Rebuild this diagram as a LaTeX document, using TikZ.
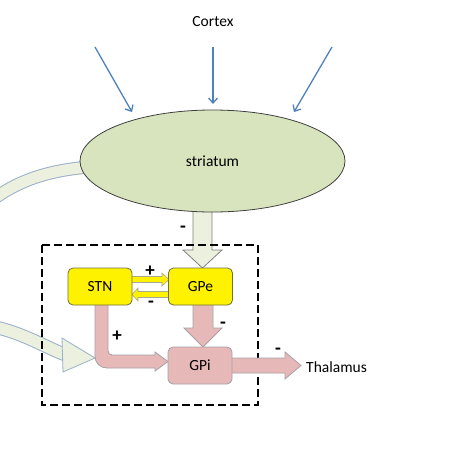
\documentclass[tikz,border=0pt]{standalone}
\usepackage{fontspec}
\setmainfont{Carlito}
\usetikzlibrary{arrows.meta,shapes.geometric}

\definecolor{stricol}{HTML}{D7E4BD}
\definecolor{palegreen}{HTML}{EBF1DE}
\definecolor{bandedge}{HTML}{9AAFC9}
\definecolor{cortexblue}{HTML}{4F81BD}
\definecolor{pinkfill}{HTML}{E6B9B8}
\definecolor{pinkedge}{HTML}{A8A0A6}
\definecolor{yelledge}{HTML}{6E6E40}

\def\boxw{64}
\def\boxh{37}

\tikzset{
  txt/.style={font=\fontsize{15.5}{18}\selectfont, inner sep=1pt},
  sign/.style={txt, font=\fontsize{19}{20}\selectfont\bfseries},
  ybox/.style={draw=yelledge, fill=yellow, rounded corners=5, line width=0.8,
    minimum width=\boxw, minimum height=\boxh, txt},
  pbox/.style={draw=pinkedge, fill=pinkfill, rounded corners=5, line width=0.8,
    minimum width=\boxw, minimum height=\boxh, txt},
  cortexarrow/.style={draw=cortexblue, line width=1.3, -{Straight Barb[length=5pt,width=9pt]}},
  greenarrow/.style={draw=gray, fill=palegreen, line width=0.8},
  yarrow/.style={draw=yelledge!60, fill=yellow, line width=0.6},
  parrow/.style={draw=pinkedge, fill=pinkfill, line width=0.8},
}

\begin{document}
\begin{tikzpicture}[x=1pt,y=-1pt]
  \useasboundingbox (0,0) rectangle (474,474);

  % cortex input
  \node[txt] (cortex) at (213,22) {Cortex};
  \coordinate (cl) at (95,47);
  \coordinate (cm) at (213,47);
  \coordinate (cr) at (332,47);
  \coordinate (sl) at (132,112);
  \coordinate (sm) at (213,104);
  \coordinate (sr) at (294,112);
  \draw[cortexarrow] (cl) -- (sl);
  \draw[cortexarrow] (cm) -- (sm);
  \draw[cortexarrow] (cr) -- (sr);

  % curved bands on the left
  \draw[draw=bandedge, line width=13] (90,167) .. controls (50,170) and (20,180) .. (-5,198);
  \draw[draw=palegreen, line width=11] (90,167) .. controls (50,170) and (20,180) .. (-5,198);
  \draw[draw=bandedge, line width=13.5] (-5,327) .. controls (25,334) and (45,347) .. (66,355);
  \draw[draw=palegreen, line width=11.5] (-5,327) .. controls (25,334) and (45,347) .. (66,355);
  \draw[draw=bandedge, fill=palegreen, line width=0.8] (62,338) -- (95,358) -- (63,372) -- cycle;

  % striatum to GPe
  \draw[greenarrow] (193,200) -- (212,200) -- (212,250) -- (222,250) -- (202.5,268)
    -- (183,250) -- (193,250) -- cycle;
  \node[draw=black!75, fill=stricol, ellipse, line width=0.8, minimum width=265,
    minimum height=102, txt] (stri) at (212.5,161) {striatum};
  \node[sign] (m1) at (183,229) {-};

  % dashed frame
  \draw[line width=1.8, dash pattern=on 8 off 4] (42,245) rectangle (258,405);

  % STN to GPi
  \draw[parrow] (95,300) -- (108,300) -- (108,351) .. controls (108,353) and (110,355) .. (112,355)
    -- (155,355) -- (155,352) -- (168,361.5) -- (155,371) -- (155,368) -- (107,368)
    .. controls (100,368) and (95,363) .. (95,356) -- cycle;
  \node[sign] (p2) at (117,336) {+};

  % GPe to GPi
  \draw[parrow] (193,300) -- (213,300) -- (213,328) -- (222,328) -- (203,347)
    -- (184,328) -- (193,328) -- cycle;
  \node[sign] (m3) at (223,325) {-};

  % GPi to thalamus
  \draw[parrow] (225,358) -- (285,358) -- (285,352) -- (301,365.5) -- (285,379)
    -- (285,373) -- (225,373) -- cycle;
  \node[sign] (m4) at (278,351) {-};
  \node[txt, anchor=west] (thal) at (305,367) {Thalamus};

  % STN <-> GPe
  \draw[yarrow] (128,276.5) -- (162,276.5) -- (162,273) -- (169,279.5) -- (162,286)
    -- (162,282.5) -- (128,282.5) -- cycle;
  \draw[yarrow] (173,291.5) -- (138,291.5) -- (138,288) -- (132,294.5) -- (138,301)
    -- (138,297.5) -- (173,297.5) -- cycle;
  \node[sign] (p1) at (150,271) {+};
  \node[sign] (m2) at (151,304) {-};

  % nuclei
  \node[ybox] (stn) at (100,286.5) {STN};
  \node[ybox] (gpe) at (200.5,286.5) {GPe};
  \node[pbox] (gpi) at (200,365.5) {GPi};
\end{tikzpicture}
\end{document}
